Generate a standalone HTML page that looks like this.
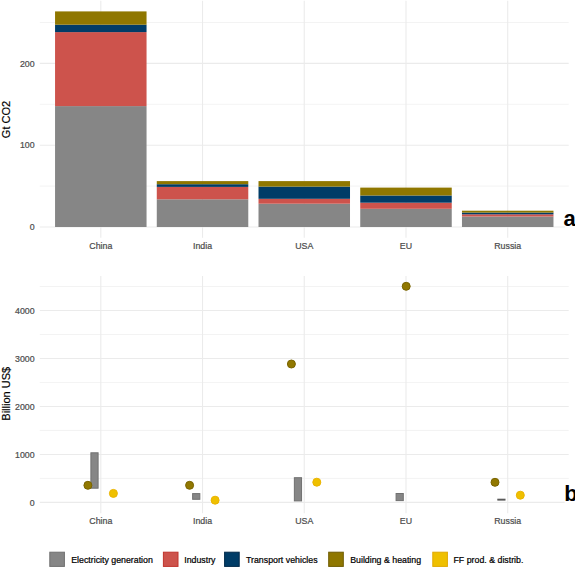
<!DOCTYPE html>
<html><head><meta charset="utf-8"><style>
html,body{margin:0;padding:0;background:#fff;}
svg{display:block;font-family:"Liberation Sans",sans-serif;}
text.t{stroke-width:0.25px;}
</style></head><body>
<svg width="575" height="568" viewBox="0 0 575 568">
<rect width="575" height="568" fill="#fff"/>
<line x1="39.80" y1="186.10" x2="568.70" y2="186.10" stroke="#EBEBEB" stroke-width="0.6"/>
<line x1="39.80" y1="104.30" x2="568.70" y2="104.30" stroke="#EBEBEB" stroke-width="0.6"/>
<line x1="39.80" y1="22.50" x2="568.70" y2="22.50" stroke="#EBEBEB" stroke-width="0.6"/>
<line x1="39.80" y1="227.00" x2="568.70" y2="227.00" stroke="#EBEBEB" stroke-width="1.1"/>
<line x1="39.80" y1="145.20" x2="568.70" y2="145.20" stroke="#EBEBEB" stroke-width="1.1"/>
<line x1="39.80" y1="63.40" x2="568.70" y2="63.40" stroke="#EBEBEB" stroke-width="1.1"/>
<line x1="100.80" y1="0.80" x2="100.80" y2="237.80" stroke="#EBEBEB" stroke-width="1.1"/>
<line x1="202.53" y1="0.80" x2="202.53" y2="237.80" stroke="#EBEBEB" stroke-width="1.1"/>
<line x1="304.26" y1="0.80" x2="304.26" y2="237.80" stroke="#EBEBEB" stroke-width="1.1"/>
<line x1="405.99" y1="0.80" x2="405.99" y2="237.80" stroke="#EBEBEB" stroke-width="1.1"/>
<line x1="507.72" y1="0.80" x2="507.72" y2="237.80" stroke="#EBEBEB" stroke-width="1.1"/>
<rect x="55.05" y="106.10" width="91.50" height="120.90" fill="#868686"/>
<rect x="55.05" y="32.10" width="91.50" height="74.00" fill="#CD534C"/>
<rect x="55.05" y="24.70" width="91.50" height="7.40" fill="#003C67"/>
<rect x="55.05" y="11.40" width="91.50" height="13.30" fill="#8F7700"/>
<rect x="156.78" y="199.30" width="91.50" height="27.70" fill="#868686"/>
<rect x="156.78" y="186.90" width="91.50" height="12.40" fill="#CD534C"/>
<rect x="156.78" y="184.20" width="91.50" height="2.70" fill="#003C67"/>
<rect x="156.78" y="181.10" width="91.50" height="3.10" fill="#8F7700"/>
<rect x="258.51" y="203.70" width="91.50" height="23.30" fill="#868686"/>
<rect x="258.51" y="198.80" width="91.50" height="4.90" fill="#CD534C"/>
<rect x="258.51" y="186.60" width="91.50" height="12.20" fill="#003C67"/>
<rect x="258.51" y="181.10" width="91.50" height="5.50" fill="#8F7700"/>
<rect x="360.24" y="208.80" width="91.50" height="18.20" fill="#868686"/>
<rect x="360.24" y="202.70" width="91.50" height="6.10" fill="#CD534C"/>
<rect x="360.24" y="195.50" width="91.50" height="7.20" fill="#003C67"/>
<rect x="360.24" y="187.60" width="91.50" height="7.90" fill="#8F7700"/>
<rect x="461.97" y="216.50" width="91.50" height="10.50" fill="#868686"/>
<rect x="461.97" y="214.30" width="91.50" height="2.20" fill="#CD534C"/>
<rect x="461.97" y="212.60" width="91.50" height="1.70" fill="#003C67"/>
<rect x="461.97" y="210.70" width="91.50" height="1.90" fill="#8F7700"/>
<text x="34.60" y="230.20" font-size="8.8" fill="#4D4D4D" text-anchor="end" font-weight="normal" stroke="#4D4D4D" stroke-width="0.22">0</text>
<text x="34.60" y="148.40" font-size="8.8" fill="#4D4D4D" text-anchor="end" font-weight="normal" stroke="#4D4D4D" stroke-width="0.22">100</text>
<text x="34.60" y="66.60" font-size="8.8" fill="#4D4D4D" text-anchor="end" font-weight="normal" stroke="#4D4D4D" stroke-width="0.22">200</text>
<text x="100.80" y="249.20" font-size="8.8" fill="#4D4D4D" text-anchor="middle" font-weight="normal" stroke="#4D4D4D" stroke-width="0.22">China</text>
<text x="202.53" y="249.20" font-size="8.8" fill="#4D4D4D" text-anchor="middle" font-weight="normal" stroke="#4D4D4D" stroke-width="0.22">India</text>
<text x="304.26" y="249.20" font-size="8.8" fill="#4D4D4D" text-anchor="middle" font-weight="normal" stroke="#4D4D4D" stroke-width="0.22">USA</text>
<text x="405.99" y="249.20" font-size="8.8" fill="#4D4D4D" text-anchor="middle" font-weight="normal" stroke="#4D4D4D" stroke-width="0.22">EU</text>
<text x="507.72" y="249.20" font-size="8.8" fill="#4D4D4D" text-anchor="middle" font-weight="normal" stroke="#4D4D4D" stroke-width="0.22">Russia</text>
<text x="10.00" y="119.50" font-size="11" fill="#000" text-anchor="middle" font-weight="normal" stroke="#000" stroke-width="0.18" transform="rotate(-90 10.00 119.50)">Gt CO2</text>
<rect x="565.00" y="205.00" width="10.00" height="27.00" fill="#fff"/>
<text x="563.50" y="226.00" font-size="22" fill="#000" text-anchor="start" font-weight="bold">a</text>
<line x1="39.80" y1="478.41" x2="568.70" y2="478.41" stroke="#EBEBEB" stroke-width="0.6"/>
<line x1="39.80" y1="430.44" x2="568.70" y2="430.44" stroke="#EBEBEB" stroke-width="0.6"/>
<line x1="39.80" y1="382.47" x2="568.70" y2="382.47" stroke="#EBEBEB" stroke-width="0.6"/>
<line x1="39.80" y1="334.50" x2="568.70" y2="334.50" stroke="#EBEBEB" stroke-width="0.6"/>
<line x1="39.80" y1="286.53" x2="568.70" y2="286.53" stroke="#EBEBEB" stroke-width="0.6"/>
<line x1="39.80" y1="502.40" x2="568.70" y2="502.40" stroke="#EBEBEB" stroke-width="1.1"/>
<line x1="39.80" y1="454.43" x2="568.70" y2="454.43" stroke="#EBEBEB" stroke-width="1.1"/>
<line x1="39.80" y1="406.46" x2="568.70" y2="406.46" stroke="#EBEBEB" stroke-width="1.1"/>
<line x1="39.80" y1="358.49" x2="568.70" y2="358.49" stroke="#EBEBEB" stroke-width="1.1"/>
<line x1="39.80" y1="310.52" x2="568.70" y2="310.52" stroke="#EBEBEB" stroke-width="1.1"/>
<line x1="100.80" y1="276.00" x2="100.80" y2="513.20" stroke="#EBEBEB" stroke-width="1.1"/>
<line x1="202.53" y1="276.00" x2="202.53" y2="513.20" stroke="#EBEBEB" stroke-width="1.1"/>
<line x1="304.26" y1="276.00" x2="304.26" y2="513.20" stroke="#EBEBEB" stroke-width="1.1"/>
<line x1="405.99" y1="276.00" x2="405.99" y2="513.20" stroke="#EBEBEB" stroke-width="1.1"/>
<line x1="507.72" y1="276.00" x2="507.72" y2="513.20" stroke="#EBEBEB" stroke-width="1.1"/>
<rect x="90.90" y="452.80" width="7.20" height="35.40" fill="#868686" stroke="#707070" stroke-width="1"/>
<rect x="192.63" y="493.60" width="7.20" height="5.70" fill="#868686" stroke="#707070" stroke-width="1"/>
<rect x="294.36" y="477.70" width="7.20" height="23.20" fill="#868686" stroke="#707070" stroke-width="1"/>
<rect x="396.09" y="493.50" width="7.20" height="7.10" fill="#868686" stroke="#707070" stroke-width="1"/>
<rect x="497.82" y="499.20" width="7.20" height="0.90" fill="#868686" stroke="#5A5A5A" stroke-width="1"/>
<circle cx="87.9" cy="485.3" r="4.0" fill="#917800" stroke="#7A6400" stroke-width="1"/>
<circle cx="189.6" cy="485.3" r="4.0" fill="#917800" stroke="#7A6400" stroke-width="1"/>
<circle cx="291.4" cy="364.0" r="4.0" fill="#917800" stroke="#7A6400" stroke-width="1"/>
<circle cx="406.2" cy="286.3" r="4.0" fill="#917800" stroke="#7A6400" stroke-width="1"/>
<circle cx="495.0" cy="482.3" r="4.0" fill="#917800" stroke="#7A6400" stroke-width="1"/>
<circle cx="113.4" cy="493.4" r="4.0" fill="#EFC000" stroke="#EBB400" stroke-width="1"/>
<circle cx="215.1" cy="500.2" r="4.0" fill="#EFC000" stroke="#EBB400" stroke-width="1"/>
<circle cx="316.8" cy="482.2" r="4.0" fill="#EFC000" stroke="#EBB400" stroke-width="1"/>
<circle cx="520.3" cy="495.2" r="4.0" fill="#EFC000" stroke="#EBB400" stroke-width="1"/>
<text x="34.60" y="505.60" font-size="8.8" fill="#4D4D4D" text-anchor="end" font-weight="normal" stroke="#4D4D4D" stroke-width="0.22">0</text>
<text x="34.60" y="457.63" font-size="8.8" fill="#4D4D4D" text-anchor="end" font-weight="normal" stroke="#4D4D4D" stroke-width="0.22">1000</text>
<text x="34.60" y="409.66" font-size="8.8" fill="#4D4D4D" text-anchor="end" font-weight="normal" stroke="#4D4D4D" stroke-width="0.22">2000</text>
<text x="34.60" y="361.69" font-size="8.8" fill="#4D4D4D" text-anchor="end" font-weight="normal" stroke="#4D4D4D" stroke-width="0.22">3000</text>
<text x="34.60" y="313.72" font-size="8.8" fill="#4D4D4D" text-anchor="end" font-weight="normal" stroke="#4D4D4D" stroke-width="0.22">4000</text>
<text x="100.80" y="524.30" font-size="8.8" fill="#4D4D4D" text-anchor="middle" font-weight="normal" stroke="#4D4D4D" stroke-width="0.22">China</text>
<text x="202.53" y="524.30" font-size="8.8" fill="#4D4D4D" text-anchor="middle" font-weight="normal" stroke="#4D4D4D" stroke-width="0.22">India</text>
<text x="304.26" y="524.30" font-size="8.8" fill="#4D4D4D" text-anchor="middle" font-weight="normal" stroke="#4D4D4D" stroke-width="0.22">USA</text>
<text x="405.99" y="524.30" font-size="8.8" fill="#4D4D4D" text-anchor="middle" font-weight="normal" stroke="#4D4D4D" stroke-width="0.22">EU</text>
<text x="507.72" y="524.30" font-size="8.8" fill="#4D4D4D" text-anchor="middle" font-weight="normal" stroke="#4D4D4D" stroke-width="0.22">Russia</text>
<text x="10.00" y="393.80" font-size="11" fill="#000" text-anchor="middle" font-weight="normal" stroke="#000" stroke-width="0.18" transform="rotate(-90 10.00 393.80)">Billion US$</text>
<rect x="564.60" y="481.00" width="10.40" height="26.00" fill="#fff"/>
<text x="564.30" y="501.00" font-size="22" fill="#000" text-anchor="start" font-weight="bold">b</text>
<rect x="49.80" y="552.20" width="14.60" height="14.20" fill="#868686" stroke="#707070" stroke-width="1"/>
<text x="71.20" y="562.80" font-size="8.8" fill="#000" text-anchor="start" font-weight="normal" stroke="#000" stroke-width="0.22">Electricity generation</text>
<rect x="163.40" y="552.20" width="14.60" height="14.20" fill="#CD534C" stroke="#C0342D" stroke-width="1"/>
<text x="184.20" y="562.80" font-size="8.8" fill="#000" text-anchor="start" font-weight="normal" stroke="#000" stroke-width="0.22">Industry</text>
<rect x="224.60" y="552.20" width="14.60" height="14.20" fill="#003C67" stroke="#00294A" stroke-width="1"/>
<text x="246.00" y="562.80" font-size="8.8" fill="#000" text-anchor="start" font-weight="normal" stroke="#000" stroke-width="0.22">Transport vehicles</text>
<rect x="328.70" y="552.20" width="14.60" height="14.20" fill="#8F7700" stroke="#6E5B00" stroke-width="1"/>
<text x="350.20" y="562.80" font-size="8.8" fill="#000" text-anchor="start" font-weight="normal" stroke="#000" stroke-width="0.22">Building &amp; heating</text>
<rect x="432.80" y="552.20" width="14.60" height="14.20" fill="#EFC000" stroke="#E0A800" stroke-width="1"/>
<text x="453.50" y="562.80" font-size="8.8" fill="#000" text-anchor="start" font-weight="normal" stroke="#000" stroke-width="0.22">FF prod. &amp; distrib.</text>
</svg>
</body></html>
